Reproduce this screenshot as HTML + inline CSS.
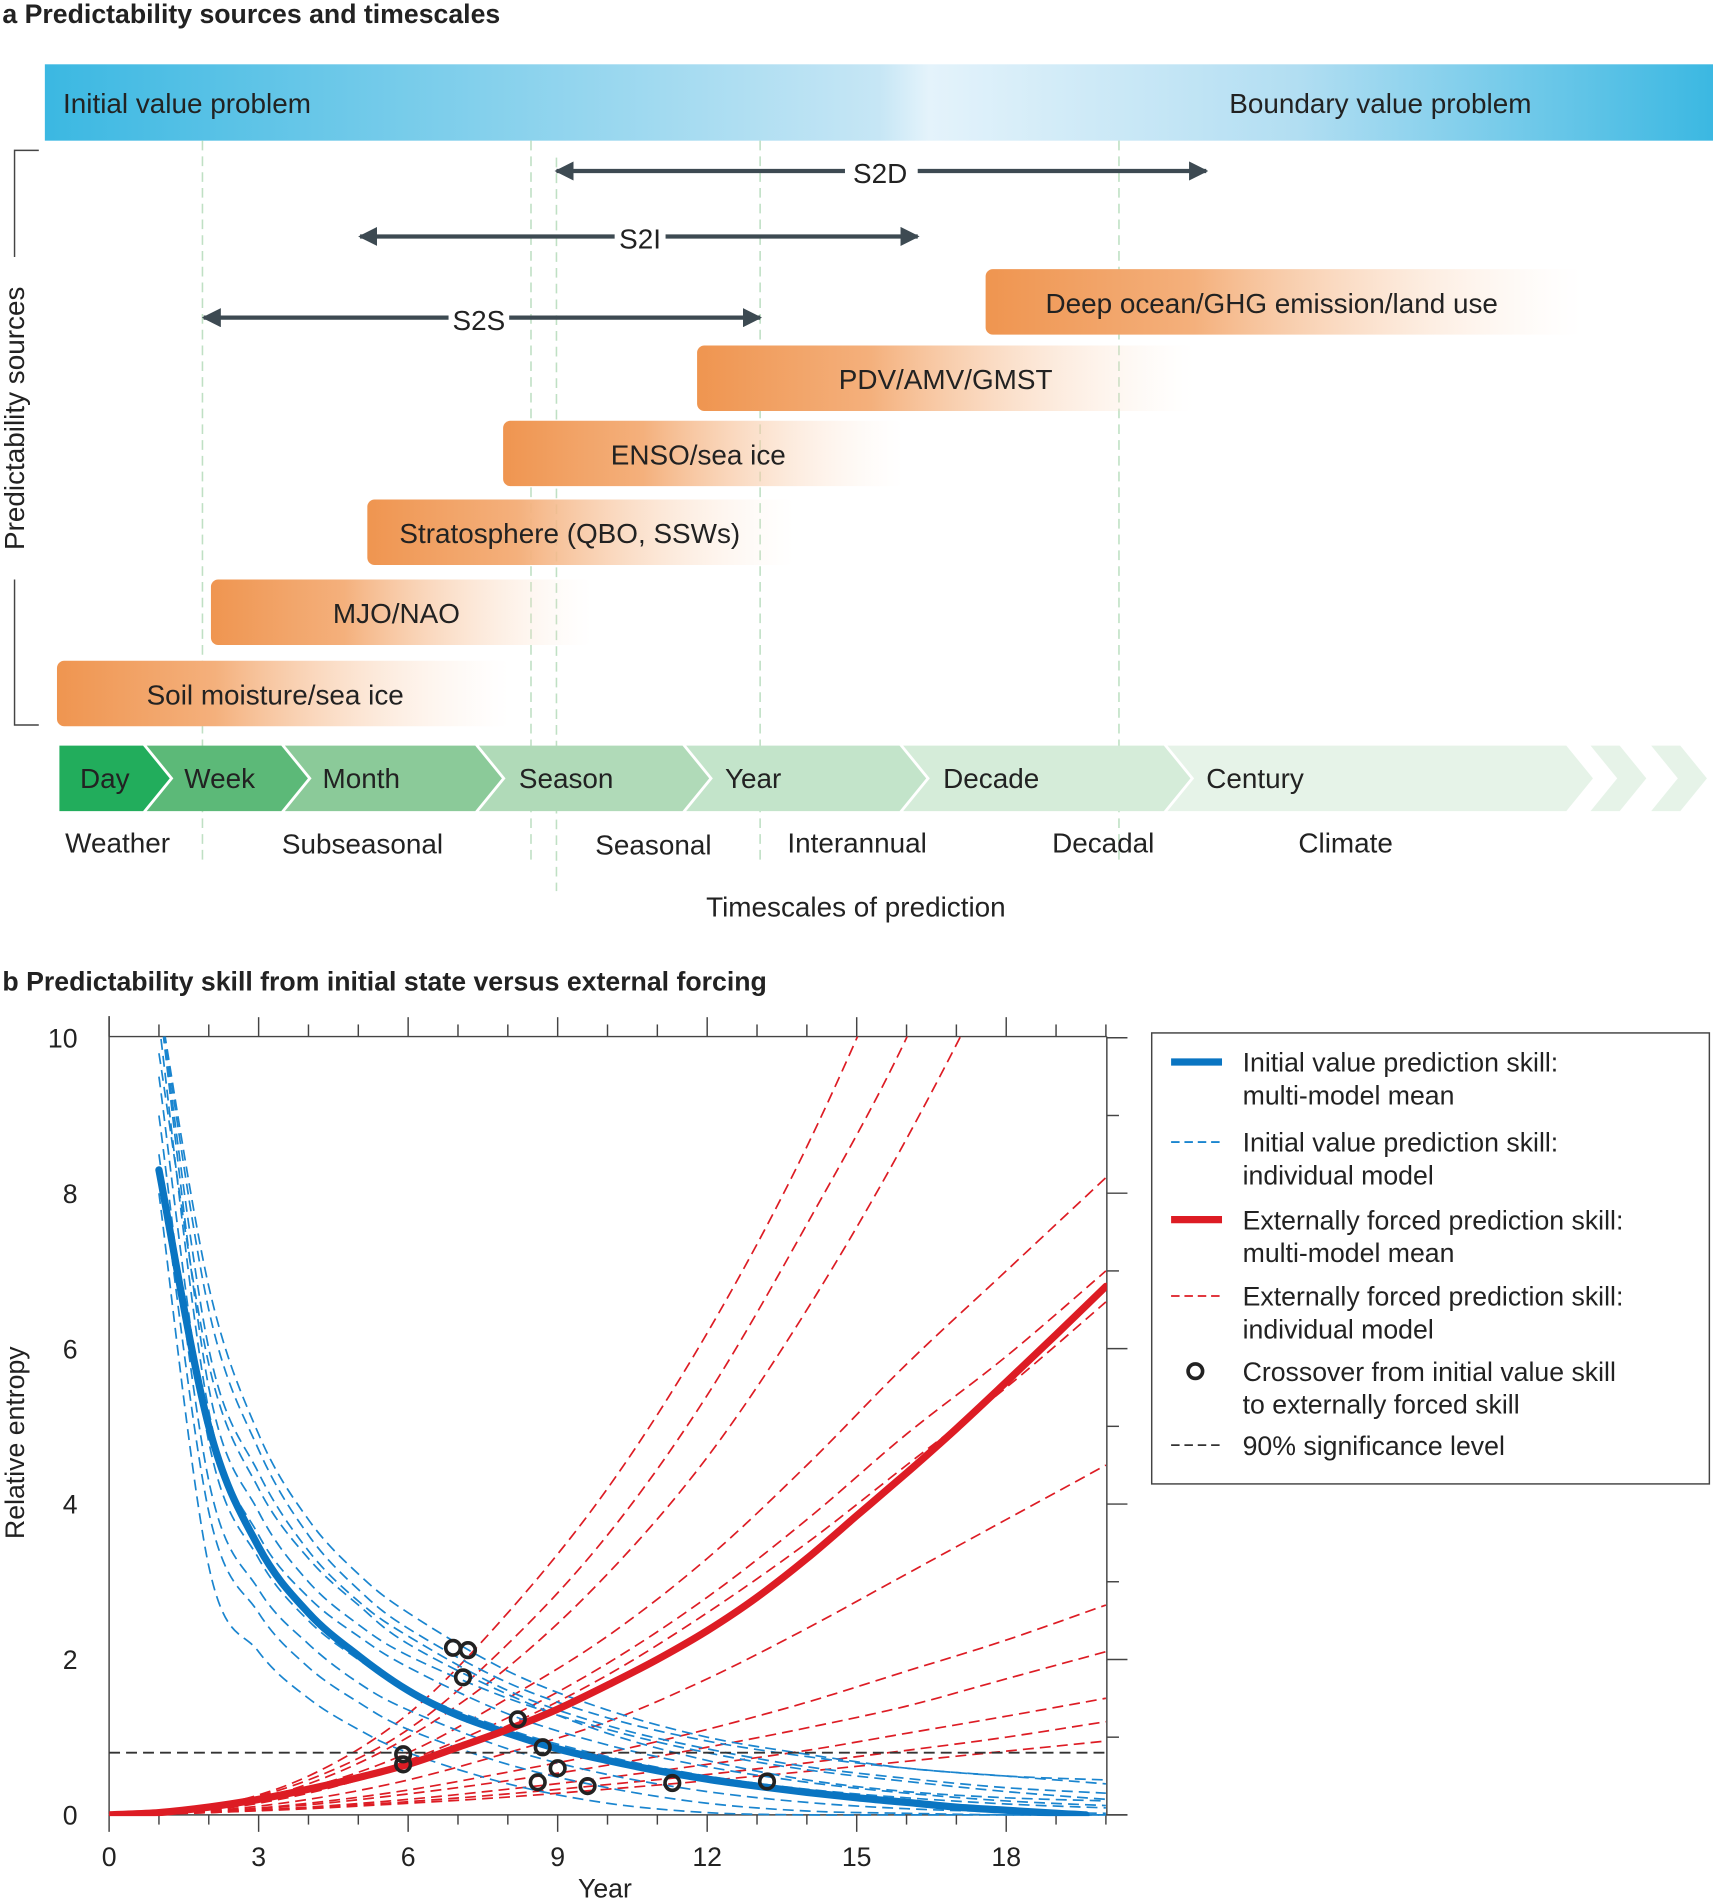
<!DOCTYPE html>
<html><head><meta charset="utf-8"><style>
html,body{margin:0;padding:0;background:#fff;}
svg{display:block;font-family:"Liberation Sans",sans-serif;}
</style></head><body>
<svg id="fig" width="1713" height="1901" viewBox="0 0 1413 1568" xmlns="http://www.w3.org/2000/svg">
<defs>
<linearGradient id="ivp" x1="0" x2="1" y1="0" y2="0">
<stop offset="0" stop-color="#3bb8e2"/><stop offset="0.5" stop-color="#c6e6f5"/><stop offset="0.53" stop-color="#e4f3fb"/><stop offset="0.75" stop-color="#b2def2"/><stop offset="1" stop-color="#3bb8e2"/>
</linearGradient>
<linearGradient id="org" x1="0" x2="1" y1="0" y2="0">
<stop offset="0" stop-color="#ef9550"/><stop offset="0.35" stop-color="#f4b07c"/><stop offset="1" stop-color="#fde9d9" stop-opacity="0"/>
</linearGradient>
<clipPath id="plotclip"><rect x="90" y="855" width="823" height="643"/></clipPath>
<marker id="ah" viewBox="0 0 10 10" refX="9" refY="5" markerWidth="4.5" markerHeight="4.5" orient="auto-start-reverse"><path d="M0,0L10,5L0,10z" fill="#3d4a52"/></marker>
</defs>

<text x="2" y="19" font-size="22" font-weight="bold" fill="#222">a  Predictability sources and timescales</text>
<rect x="37" y="53" width="1376" height="63" fill="url(#ivp)"/>
<text x="52" y="93" font-size="23" fill="#222">Initial value problem</text>
<text x="1014" y="93" font-size="23" fill="#222">Boundary value problem</text>

<g stroke="#bfe0c4" stroke-width="1.3" stroke-dasharray="8,5">
<line x1="167" y1="116" x2="167" y2="712"/><line x1="438" y1="116" x2="438" y2="712"/><line x1="459" y1="130" x2="459" y2="735"/><line x1="627" y1="116" x2="627" y2="712"/><line x1="923" y1="116" x2="923" y2="712"/>
</g>

<g fill="none" stroke="#444" stroke-width="1.2">
<path d="M32,124H12V212"/><path d="M12,478V598H32"/>
</g>
<text transform="translate(20,345) rotate(-90)" text-anchor="middle" font-size="23" fill="#222">Predictability sources</text>

<g stroke="#3d4a52" stroke-width="3.5" fill="none">
<line x1="459" y1="141" x2="697" y2="141" marker-start="url(#ah)"/><line x1="757" y1="141" x2="995" y2="141" marker-end="url(#ah)"/>
<line x1="297" y1="195" x2="507" y2="195" marker-start="url(#ah)"/><line x1="549" y1="195" x2="757" y2="195" marker-end="url(#ah)"/>
<line x1="168" y1="262" x2="370" y2="262" marker-start="url(#ah)"/><line x1="420" y1="262" x2="627" y2="262" marker-end="url(#ah)"/>
</g>
<text x="726" y="151" text-anchor="middle" font-size="23" fill="#222">S2D</text>
<text x="528" y="205" text-anchor="middle" font-size="23" fill="#222">S2I</text>
<text x="395" y="272" text-anchor="middle" font-size="23" fill="#222">S2S</text>

<g font-size="23" fill="#222">
<rect x="813" y="222" width="492" height="54" rx="6" fill="url(#org)"/>
<text x="1049" y="258" text-anchor="middle">Deep ocean/GHG emission/land use</text>
<rect x="575" y="285" width="410" height="54" rx="6" fill="url(#org)"/>
<text x="780" y="321" text-anchor="middle">PDV/AMV/GMST</text>
<rect x="415" y="347" width="330" height="54" rx="6" fill="url(#org)"/>
<text x="576" y="383" text-anchor="middle">ENSO/sea ice</text>
<rect x="303" y="412" width="352" height="54" rx="6" fill="url(#org)"/>
<text x="470" y="448" text-anchor="middle">Stratosphere (QBO, SSWs)</text>
<rect x="174" y="478" width="314" height="54" rx="6" fill="url(#org)"/>
<text x="327" y="514" text-anchor="middle">MJO/NAO</text>
<rect x="47" y="545" width="373" height="54" rx="6" fill="url(#org)"/>
<text x="227" y="581" text-anchor="middle">Soil moisture/sea ice</text>
</g>

<g font-size="23" fill="#222">
<polygon points="49,615 118,615 140,642 118,669 49,669" fill="#22ad5c"/>
<polygon points="121,615 232,615 254,642 232,669 121,669 143,642" fill="#5cb978"/>
<polygon points="235,615 392,615 414,642 392,669 235,669 257,642" fill="#8bca99"/>
<polygon points="395,615 563,615 585,642 563,669 395,669 417,642" fill="#b0dab8"/>
<polygon points="566,615 742,615 764,642 742,669 566,669 588,642" fill="#c3e4ca"/>
<polygon points="745,615 960,615 982,642 960,669 745,669 767,642" fill="#d5ecd9"/>
<polygon points="963,615 1292,615 1314,642 1292,669 963,669 985,642" fill="#e6f3e8"/>
<polygon points="1312,615 1336,615 1358,642 1336,669 1312,669 1334,642" fill="#e6f3e8"/>
<polygon points="1362,615 1386,615 1408,642 1386,669 1362,669 1384,642" fill="#e6f3e8"/>
<text x="66" y="650">Day</text><text x="152" y="650">Week</text><text x="266" y="650">Month</text><text x="428" y="650">Season</text><text x="598" y="650">Year</text><text x="778" y="650">Decade</text><text x="995" y="650">Century</text>
</g>
<g font-size="23" fill="#222" text-anchor="middle">
<text x="97" y="703">Weather</text><text x="299" y="704">Subseasonal</text><text x="539" y="705">Seasonal</text><text x="707" y="703">Interannual</text><text x="910" y="703">Decadal</text><text x="1110" y="703">Climate</text>
<text x="706" y="756">Timescales of prediction</text>
</g>

<text x="2" y="817" font-size="22" font-weight="bold" fill="#222">b  Predictability skill from initial state versus external forcing</text>

<g id="chart"></g>

<g font-size="22" fill="#222">
<rect x="950" y="852" width="460" height="372" fill="#fff" stroke="#444" stroke-width="1.2"/>
<line x1="966" y1="876" x2="1008" y2="876" stroke="#0a75c2" stroke-width="6"/>
<text x="1025" y="884">Initial value prediction skill:</text><text x="1025" y="911">multi-model mean</text>
<line x1="966" y1="942" x2="1008" y2="942" stroke="#1a85cf" stroke-width="1.5" stroke-dasharray="7,4"/>
<text x="1025" y="950">Initial value prediction skill:</text><text x="1025" y="977">individual model</text>
<line x1="966" y1="1006" x2="1008" y2="1006" stroke="#dd1c24" stroke-width="6"/>
<text x="1025" y="1014">Externally forced prediction skill:</text><text x="1025" y="1041">multi-model mean</text>
<line x1="966" y1="1069" x2="1008" y2="1069" stroke="#dd1c24" stroke-width="1.5" stroke-dasharray="7,4"/>
<text x="1025" y="1077">Externally forced prediction skill:</text><text x="1025" y="1104">individual model</text>
<circle cx="986" cy="1131" r="6" fill="none" stroke="#222" stroke-width="3"/>
<text x="1025" y="1139">Crossover from initial value skill</text><text x="1025" y="1166">to externally forced skill</text>
<line x1="966" y1="1192" x2="1008" y2="1192" stroke="#333" stroke-width="1.5" stroke-dasharray="7,4"/>
<text x="1025" y="1200">90% significance level</text>
</g>

<script>
// ---- chart data ----
const blueMeanYears = [1,2,3,4,5,6,7,8,9,10,11,12,13,14,15,16,17,18,19,19.6];
const blueMean = [8.3,5.0,3.45,2.6,2.05,1.6,1.28,1.05,0.85,0.7,0.57,0.46,0.37,0.29,0.22,0.16,0.1,0.06,0.02,0];
const redMeanYears = [0,1,2,3,4,5,6,7,8,9,10,11,12,13,14,15,16,17,18,19,20];
const redMean = [0,0.03,0.1,0.2,0.33,0.48,0.65,0.87,1.1,1.36,1.67,2.0,2.37,2.8,3.3,3.85,4.4,4.97,5.57,6.18,6.8];
const blueModelYears = [1,2,3,4,5,6,8,10,12,14,16,18,20];
const blueModels = [
 [10.5,6.5,4.7,3.6,2.9,2.4,1.7,1.25,0.95,0.75,0.6,0.5,0.45],
 [10.5,6.0,4.4,3.4,2.75,2.3,1.6,1.15,0.85,0.62,0.47,0.35,0.28],
 [10.5,5.5,3.9,3.0,2.45,2.05,1.5,1.1,0.8,0.58,0.43,0.3,0.2],
 [10.2,5.2,3.6,2.8,2.3,1.9,1.3,0.9,0.62,0.42,0.28,0.18,0.12],
 [9.5,4.8,3.3,2.5,2.0,1.6,1.1,0.75,0.5,0.33,0.22,0.14,0.09],
 [9.0,4.3,2.9,2.2,1.7,1.35,0.85,0.52,0.3,0.16,0.08,0.04,0.02],
 [8.5,3.9,2.6,1.9,1.45,1.1,0.65,0.35,0.15,0.05,0.02,0,0],
 [8.0,3.2,2.1,1.5,1.1,0.8,0.4,0.15,0.03,0,0,0,0],
 [10.5,6.8,4.9,3.8,3.1,2.6,1.85,1.35,1.0,0.78,0.6,0.5,0.4],
 [9.8,5.8,4.2,3.3,2.7,2.2,1.55,1.05,0.7,0.45,0.3,0.22,0.18]
];
const redModelYears = [0,2,4,6,8,10,12,14,16,18,20];
const redModels = [
 [0,0.1,0.5,1.3,2.6,4.2,6.2,8.6,11.5,14.8,18],
 [0,0.1,0.45,1.1,2.2,3.6,5.4,7.6,10,13,16],
 [0,0.08,0.4,1.0,1.9,3.1,4.6,6.5,8.7,11.2,14],
 [0,0.08,0.35,0.8,1.5,2.3,3.3,4.5,5.8,7.0,8.2],
 [0,0.06,0.3,0.7,1.25,1.95,2.8,3.8,4.9,5.9,7.0],
 [0,0.06,0.28,0.65,1.15,1.8,2.6,3.5,4.5,5.5,6.6],
 [0,0.05,0.2,0.45,0.8,1.2,1.75,2.4,3.1,3.8,4.5],
 [0,0.04,0.15,0.32,0.55,0.8,1.1,1.45,1.85,2.25,2.7],
 [0,0.04,0.13,0.27,0.44,0.64,0.87,1.12,1.4,1.75,2.1],
 [0,0.03,0.1,0.2,0.33,0.48,0.65,0.83,1.05,1.27,1.5],
 [0,0.03,0.09,0.17,0.27,0.39,0.52,0.67,0.83,1.0,1.2],
 [0,0.03,0.08,0.15,0.23,0.33,0.44,0.56,0.69,0.82,0.95]
];
const crossYears = [5.9,5.9,6.9,7.2,7.1,8.2,8.7,8.6,9.0,9.6,11.3,13.2];
const crossValues = [0.78,0.65,2.15,2.12,1.77,1.23,0.87,0.42,0.6,0.37,0.41,0.43];
const significance = 0.8;
const xTicks = [0,3,6,9,12,15,18];
const yTicks = [0,2,4,6,8,10];

const NS = 'http://www.w3.org/2000/svg';
const X0 = 90, X1 = 913, Y0 = 1497, Y1 = 855;
const xScale = v => X0 + v * (830 - 90) / 18;
const yScale = v => Y0 - v * (Y0 - 856) / 10;
const chart = document.getElementById('chart');
function mk(tag, attrs, parent) {
  const e = document.createElementNS(NS, tag);
  for (const k in attrs) e.setAttribute(k, attrs[k]);
  (parent || chart).appendChild(e);
  return e;
}
function smoothPath(xs, ys) {
  const p = xs.map((x, i) => [xScale(x), yScale(ys[i])]);
  let d = 'M' + p[0][0].toFixed(1) + ',' + p[0][1].toFixed(1);
  for (let i = 0; i < p.length - 1; i++) {
    const a = p[Math.max(0, i - 1)], b = p[i], c = p[i + 1], e = p[Math.min(p.length - 1, i + 2)];
    const c1 = [b[0] + (c[0] - a[0]) / 6, b[1] + (c[1] - a[1]) / 6];
    const c2 = [c[0] - (e[0] - b[0]) / 6, c[1] - (e[1] - b[1]) / 6];
    d += 'C' + c1.map(v => v.toFixed(1)).join(',') + ' ' + c2.map(v => v.toFixed(1)).join(',') + ' ' + c[0].toFixed(1) + ',' + c[1].toFixed(1);
  }
  return d;
}
// axes
const axes = mk('g', {stroke: '#444', 'stroke-width': 1.2, fill: 'none'});


mk('line', {x1: X0, y1: 838, x2: X0, y2: Y0}, axes);
mk('line', {x1: X0, y1: Y1, x2: X1, y2: Y1}, axes);
mk('line', {x1: X1, y1: Y1, x2: X1, y2: Y0}, axes);
mk('line', {x1: X0, y1: Y0, x2: 930, y2: Y0}, axes);
for (let v = 0; v <= 20; v++) {
  const x = xScale(v), major = v % 3 === 0;
  mk('line', {x1: x, y1: Y0, x2: x, y2: Y0 + (major ? 14 : 8)}, axes);
  mk('line', {x1: x, y1: Y1, x2: x, y2: Y1 - (major ? 16 : 10)}, axes);
}
for (let v = 0; v <= 10; v++) {
  const y = yScale(v), major = v % 2 === 0;
  mk('line', {x1: X1, y1: y, x2: X1 + (major ? 17 : 10), y2: y}, axes);
}
xTicks.forEach(v => {
  const t = mk('text', {x: xScale(v), y: 1539, 'text-anchor': 'middle', 'font-size': 22, fill: '#222'});
  
  
  t.textContent = v;
});
yTicks.forEach(v => {
  const t = mk('text', {x: 64, y: yScale(v) + 8, 'text-anchor': 'end', 'font-size': 22, fill: '#222'});
  
  
  t.textContent = v;
});
const xt = mk('text', {x: 499, y: 1565, 'text-anchor': 'middle', 'font-size': 22, fill: '#222'});


xt.textContent = 'Year';
const yt = mk('text', {transform: 'translate(20,1190) rotate(-90)', 'text-anchor': 'middle', 'font-size': 22, fill: '#222'});


yt.textContent = 'Relative entropy';

const plot = mk('g', {'clip-path': 'url(#plotclip)'});


redModels.forEach(m => {
  const p = mk('path', {d: smoothPath(redModelYears, m), fill: 'none', stroke: '#dd1c24', 'stroke-width': 1.4, 'stroke-dasharray': '9,5'}, plot);
  
  
});
blueModels.forEach(m => {
  const p = mk('path', {d: smoothPath(blueModelYears, m), fill: 'none', stroke: '#1a85cf', 'stroke-width': 1.4, 'stroke-dasharray': '9,5'}, plot);
  
  
});
const sig = mk('line', {x1: X0, x2: X1, y1: yScale(significance), y2: yScale(significance), stroke: '#333', 'stroke-width': 1.5, 'stroke-dasharray': '9,5'}, plot);


const bm = mk('path', {d: smoothPath(blueMeanYears, blueMean), fill: 'none', stroke: '#0a75c2', 'stroke-width': 6, 'stroke-linecap': 'round'}, plot);


const rm = mk('path', {d: smoothPath(redMeanYears, redMean), fill: 'none', stroke: '#dd1c24', 'stroke-width': 6, 'stroke-linecap': 'round'}, plot);


crossYears.forEach((v, i) => {
  const c = mk('circle', {cx: xScale(v), cy: yScale(crossValues[i]), r: 6, fill: 'none', stroke: '#222', 'stroke-width': 3}, plot);
  
  
});
</script>
</svg>
</body></html>
